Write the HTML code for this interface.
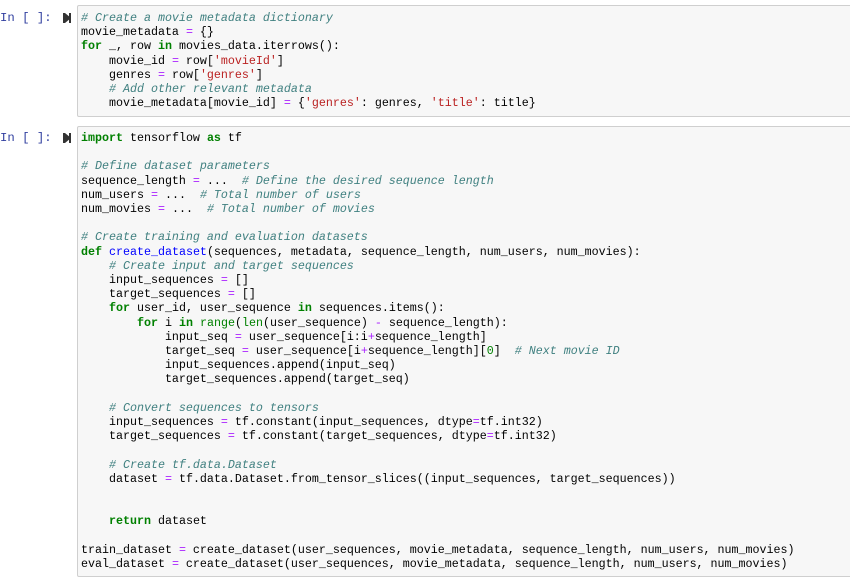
<!DOCTYPE html>
<html><head><meta charset="utf-8"><style>
body{margin:0;width:850px;height:578px;background:#fff;overflow:hidden;position:relative;font-family:"Liberation Mono",monospace;}
.box{position:absolute;left:77px;width:800px;background:#f7f7f7;border:1px solid #cfcfcf;border-radius:2px;}
.p{position:absolute;left:0;font-size:12.3px;color:#303f9f;font-family:"Liberation Mono",monospace;}
.run{position:absolute;left:63px;width:8px;height:10px;}
pre{position:absolute;left:81px;margin:0;font-family:"Liberation Mono",monospace;font-size:11.67px;line-height:14.2px;color:#000;}
.k{color:#008000;font-weight:bold}.c{color:#408080;font-style:italic}.s{color:#ba2121}.o{color:#aa22ff}.n{color:#008000}.f{color:#0000ff}.b{color:#008000}
</style></head><body>
<div class="box" style="top:5px;height:110px"></div>
<div class="box" style="top:126px;height:449px"></div>
<div class="p" style="top:11px">In [ ]:</div>
<div class="p" style="top:131px">In [ ]:</div>
<svg class="run" style="top:13px" viewBox="0 0 8 10"><rect x="0" y="0" width="2" height="10" fill="#333"/><polygon points="2,0 8,5 2,10" fill="#333"/><rect x="6" y="0" width="2" height="10" fill="#333"/></svg>
<svg class="run" style="top:133px" viewBox="0 0 8 10"><rect x="0" y="0" width="2" height="10" fill="#333"/><polygon points="2,0 8,5 2,10" fill="#333"/><rect x="6" y="0" width="2" height="10" fill="#333"/></svg>
<pre style="top:11px"><span class="c"># Create a movie metadata dictionary</span>
movie_metadata <span class="o">=</span> {}
<span class="k">for</span> _, row <span class="k">in</span> movies_data.iterrows():
    movie_id <span class="o">=</span> row[<span class="s">'movieId'</span>]
    genres <span class="o">=</span> row[<span class="s">'genres'</span>]
    <span class="c"># Add other relevant metadata</span>
    movie_metadata[movie_id] <span class="o">=</span> {<span class="s">'genres'</span>: genres, <span class="s">'title'</span>: title}</pre>
<pre style="top:131px"><span class="k">import</span> tensorflow <span class="k">as</span> tf

<span class="c"># Define dataset parameters</span>
sequence_length <span class="o">=</span> ...  <span class="c"># Define the desired sequence length</span>
num_users <span class="o">=</span> ...  <span class="c"># Total number of users</span>
num_movies <span class="o">=</span> ...  <span class="c"># Total number of movies</span>

<span class="c"># Create training and evaluation datasets</span>
<span class="k">def</span> <span class="f">create_dataset</span>(sequences, metadata, sequence_length, num_users, num_movies):
    <span class="c"># Create input and target sequences</span>
    input_sequences <span class="o">=</span> []
    target_sequences <span class="o">=</span> []
    <span class="k">for</span> user_id, user_sequence <span class="k">in</span> sequences.items():
        <span class="k">for</span> i <span class="k">in</span> <span class="b">range</span>(<span class="b">len</span>(user_sequence) <span class="o">-</span> sequence_length):
            input_seq <span class="o">=</span> user_sequence[i:i<span class="o">+</span>sequence_length]
            target_seq <span class="o">=</span> user_sequence[i<span class="o">+</span>sequence_length][<span class="n">0</span>]  <span class="c"># Next movie ID</span>
            input_sequences.append(input_seq)
            target_sequences.append(target_seq)

    <span class="c"># Convert sequences to tensors</span>
    input_sequences <span class="o">=</span> tf.constant(input_sequences, dtype<span class="o">=</span>tf.int32)
    target_sequences <span class="o">=</span> tf.constant(target_sequences, dtype<span class="o">=</span>tf.int32)

    <span class="c"># Create tf.data.Dataset</span>
    dataset <span class="o">=</span> tf.data.Dataset.from_tensor_slices((input_sequences, target_sequences))


    <span class="k">return</span> dataset

train_dataset <span class="o">=</span> create_dataset(user_sequences, movie_metadata, sequence_length, num_users, num_movies)
eval_dataset <span class="o">=</span> create_dataset(user_sequences, movie_metadata, sequence_length, num_users, num_movies)</pre>
</body></html>
